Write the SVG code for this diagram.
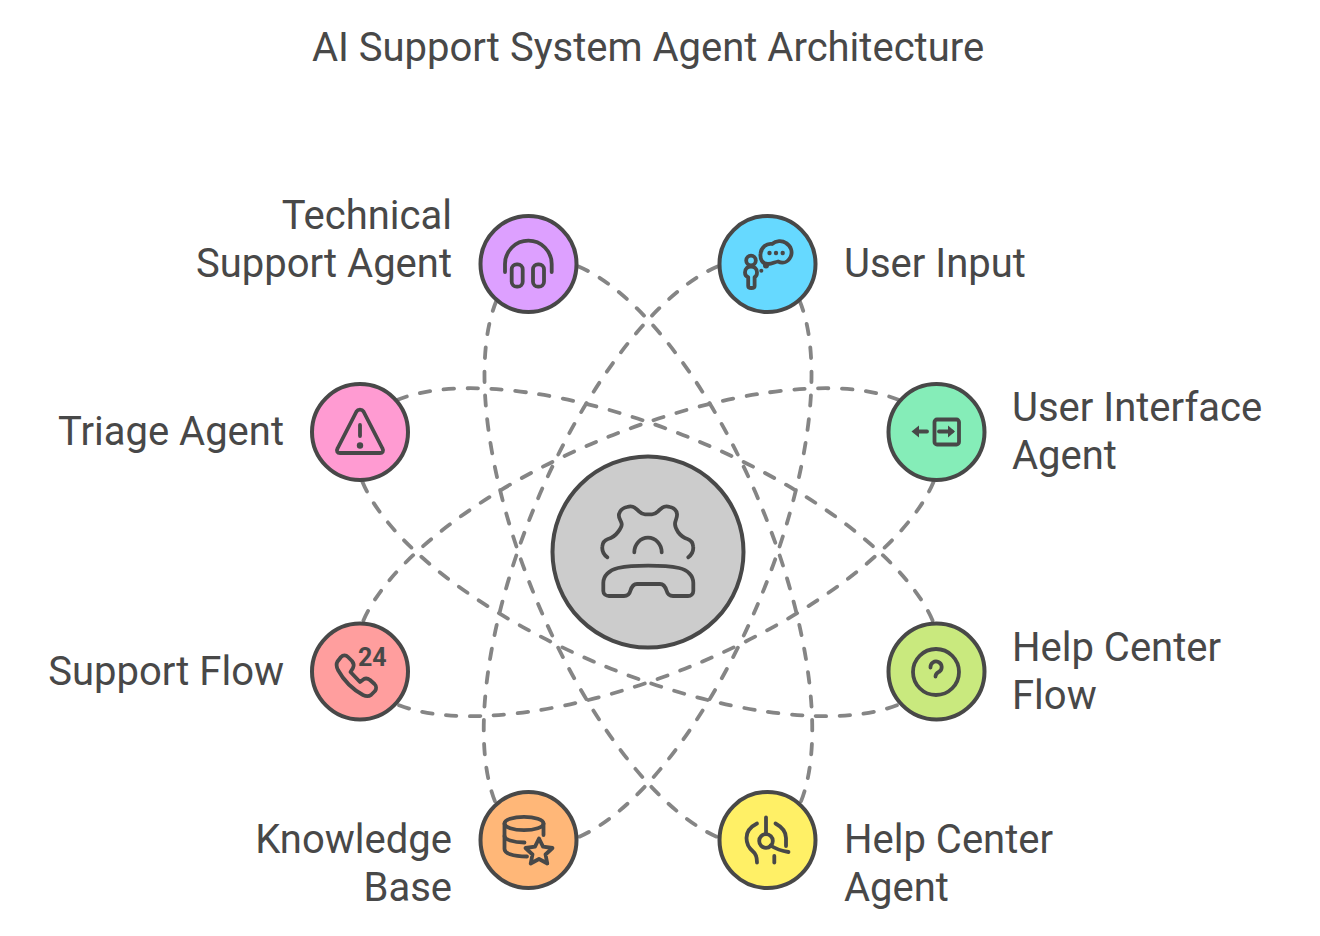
<svg xmlns="http://www.w3.org/2000/svg" width="1320" height="936" viewBox="0 0 1320 936">
<style>
text{font-family:Roboto,"Liberation Sans",sans-serif;font-size:40px;fill:#484848}
.r{text-anchor:end}
.c{fill:none;stroke:#858585;stroke-width:3.8;stroke-dasharray:10.5 13.5;stroke-linecap:round}
.n{stroke:#484848;stroke-width:4}
.i{fill:none;stroke:#484848;stroke-width:3.8;stroke-linecap:round;stroke-linejoin:round}
.f{fill:#484848;stroke:none}
</style>
<rect width="1320" height="936" fill="#fff"/>
<text id="title" x="648" y="61" text-anchor="middle">AI Support System Agent Architecture</text>
<g id="connectors">
<path class="c" d="M578.5,266.5A312,122 67.5 0 1 799.7,804.6"/>
<path class="c" d="M496.3,301A312,122 67.5 0 0 719.3,837.8"/>
<path class="c" d="M717.5,266.5A312,122 -67.5 0 0 496.3,804.6"/>
<path class="c" d="M799.7,301A312,122 -67.5 0 1 576.7,837.8"/>
<path class="c" d="M397,400A312,122 22.5 0 1 933.8,623.3"/>
<path class="c" d="M362.5,482A312,122 22.5 0 0 900.6,703.7"/>
<path class="c" d="M899,400A312,122 -22.5 0 0 362.2,623.3"/>
<path class="c" d="M933.5,482A312,122 -22.5 0 1 395.4,703.7"/>
</g>
<g id="center">
<circle class="n" cx="648" cy="552" r="95.5" fill="#cccccc"/>
<path class="i" d="M607.3,557.3C603,554 602,550 602.3,546.7C602.6,542 605,540 608,539C612,538 615,536 618,532C621,528 622,526 621.7,524C621,520 618,518 619,514C620,510 623,508 627,507C632,505.5 634,507 637,509.5C640,512 641,514.3 645,514.3H652C656,514.3 657,512 660,509.5C663,507 665,505.5 670,507C674,508 676.5,510 677,514C677.5,518 675,520 675,524C675,526 675.5,528 678,532C681,536 684,538 687.5,539C690.5,540 692.9,542 693.2,546.7C693.5,550 692.5,554 688.3,557.3"/>
<path class="i" d="M634.3,552.3A13.7,14.6 0 0 1 661.7,552.3"/>
<path class="i" d="M603.3,588V583C603.3,576 609,570 618,568C628,566 638,565.7 648.3,565.7C659,565.7 669,566 679,568C688,570 693.3,576 693.3,583V591C693.3,594 691,596 688,596H673C669,596 667.5,594 666.7,591C665.5,587 664,584 660,584H637C633,584 631.5,587 630.3,591C629.5,594 628,596 624,596H609C606,596 603.3,594 603.3,591Z"/>
</g>
<g id="technical-support-agent">
<circle class="n" cx="528.5" cy="264" r="48" fill="#dda0ff"/>
<path class="i" d="M505,272V264A23.3,23.3 0 0 1 551.7,264V272"/>
<rect class="i" x="511.7" y="264.3" width="11" height="22.4" rx="5"/>
<rect class="i" x="533" y="264.3" width="11" height="22.4" rx="5"/>
<text class="r" x="452" y="229">Technical</text>
<text class="r" x="452" y="277">Support Agent</text>
</g>
<g id="user-input">
<circle class="n" cx="767.5" cy="264" r="48" fill="#66d9ff"/>
<circle class="i" cx="751" cy="260.5" r="4.8"/>
<path class="i" d="M745,272.5C745,268.5 748,266.5 751,266.5C754,266.5 757,268.5 757,272.5C757,275 756,276.5 754.6,277V286C754.6,287.5 753,288 751.3,288C749.6,288 748.2,287.5 748.2,286V277C746,276.5 745,275 745,272.5Z"/>
<path class="i" d="M768,264C762,264 760,259 760.5,254C761,247 767,243 772,244C776,240.5 782,240 786,243C791,246 793,252 790.5,257C788,262 783,264 778,261.5C775,262 772,264 768,264Z"/>
<circle class="f" cx="769.5" cy="253" r="2.2"/><circle class="f" cx="776" cy="253" r="2.2"/><circle class="f" cx="782.7" cy="253" r="2.2"/>
<circle class="f" cx="766" cy="265.5" r="3"/><circle class="f" cx="761.3" cy="270.7" r="2"/>
<text x="844" y="277">User Input</text>
</g>
<g id="user-interface-agent">
<circle class="n" cx="936.5" cy="432" r="48" fill="#85edb8"/>
<rect class="i" x="934.5" y="419.5" width="24.5" height="25" rx="2.5"/>
<path class="i" d="M939,431.5H952"/>
<path class="f" d="M948,425.5L955,431.5L948,437.5Z"/>
<path class="i" d="M927,431.5H916"/>
<path class="f" d="M919,425.5L911.5,431.5L919,437.5Z"/>
<text x="1012" y="421">User Interface</text>
<text x="1012" y="469">Agent</text>
</g>
<g id="help-center-flow">
<circle class="n" cx="936.5" cy="671.5" r="48" fill="#c9e97e"/>
<circle class="i" cx="936" cy="672" r="23"/>
<path class="i" d="M930.5,667.5A5.6,5.6 0 1 1 939.5,671.5C937,673 935.5,673.5 935.5,676.5"/>
<text x="1012" y="661">Help Center</text>
<text x="1012" y="709">Flow</text>
</g>
<g id="help-center-agent">
<circle class="n" cx="767.5" cy="840" r="48" fill="#fff066"/>
<path class="i" d="M766,817.5V834"/>
<circle class="i" cx="766" cy="841" r="6.8"/>
<path class="i" d="M770.5,845.5C776,849 782,851 788.5,852"/>
<path class="i" d="M757,823.5C750,827 746.5,832 746.5,838C746.5,845 750,849 753,851.5C755.5,853.5 757,856 757,862.5"/>
<path class="i" d="M775.5,823.5C782,827 786,832 786,838V846"/>
<path class="i" d="M774.3,856V862.5"/>
<text x="844" y="853">Help Center</text>
<text x="844" y="901">Agent</text>
</g>
<g id="knowledge-base">
<circle class="n" cx="528.5" cy="840" r="48" fill="#ffb778"/>
<ellipse class="i" cx="524" cy="823.5" rx="19.5" ry="6.7"/>
<path class="i" d="M504.5,823.5V849C504.5,853 512,856.5 527,856.5"/>
<path class="i" d="M543.5,823.5V835"/>
<path class="i" d="M504.5,836C504.5,839.5 513,842.5 524.5,842.5"/>
<path class="i" d="M539,838.5L543,846.7L552.5,848L545.5,854.5L547.3,863.5L539,859L530.7,863.5L532.5,854.5L525.5,848L535,846.7Z"/>
<text class="r" x="452" y="853">Knowledge</text>
<text class="r" x="452" y="901">Base</text>
</g>
<g id="support-flow">
<circle class="n" cx="360" cy="671.5" r="48" fill="#ff9e9e"/>
<path class="i" d="M337.5,661.5L341,657C343,655 346,655 348,657L352,661C354,663.5 354,666 353,668L350.5,672L360,682L364,679C366,678 368,678.5 370,680L374.5,684C376.5,686 376.5,689 375,691L371,695C369,696.5 366,696.5 363,695C352,689 344,681 338,670C336.5,667 336,664 337.5,661.5Z"/>
<text x="358" y="666" style="font-size:25px;font-weight:700">24</text>
<text class="r" x="284" y="685">Support Flow</text>
</g>
<g id="triage-agent">
<circle class="n" cx="360" cy="432" r="48" fill="#ff9bd2"/>
<path class="i" d="M356.5,411.5C358,409 362,409 363.5,411.5L382.5,448.5C384,451 382.5,453 380,453H340C337.5,453 336,451 337.5,448.5Z"/>
<path class="i" d="M360,425V436"/>
<circle class="f" cx="360" cy="445.5" r="3.2"/>
<text class="r" x="284" y="445">Triage Agent</text>
</g>
</svg>
